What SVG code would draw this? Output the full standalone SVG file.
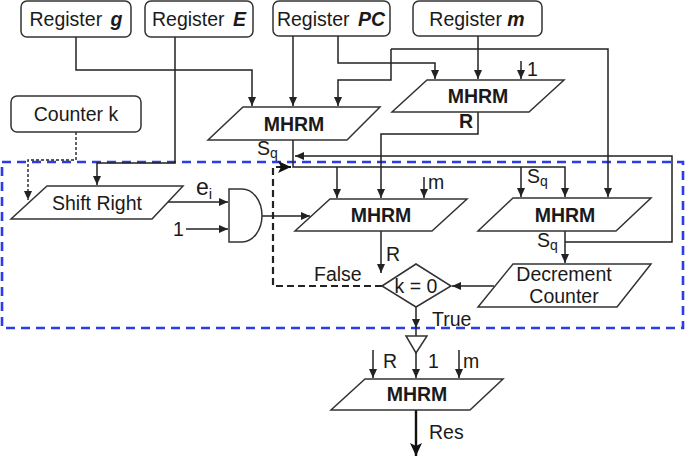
<svg xmlns="http://www.w3.org/2000/svg" width="685" height="460" viewBox="0 0 685 460">
<style>
text{font-family:"Liberation Sans",Arial,sans-serif;font-size:19.5px;fill:#1a1a1a}
.b{font-weight:bold}
.bi{font-weight:bold;font-style:italic}
.sub{font-size:14px}
.box{fill:#fff;stroke:#333;stroke-width:1.5}
.ln{fill:none;stroke:#222;stroke-width:1.5}
.dot{fill:none;stroke:#222;stroke-width:1.4;stroke-dasharray:3 2}
.dsh{fill:none;stroke:#222;stroke-width:2.2;stroke-dasharray:7 4}
.blue{fill:none;stroke:#2b3de6;stroke-width:2.6;stroke-dasharray:9 6}
</style>
<defs>
<marker id="a" markerUnits="userSpaceOnUse" markerWidth="10" markerHeight="10" refX="9" refY="4" orient="auto"><path d="M0,0 L9,4 L0,8 z" fill="#222"/></marker>
<marker id="ab" markerUnits="userSpaceOnUse" markerWidth="14" markerHeight="14" refX="13" refY="6" orient="auto"><path d="M0,0 L13,6 L0,12 L3,6 z" fill="#111"/></marker>
</defs>
<rect class="blue" x="2" y="162" width="681" height="166"/>
<g id="connectors">
<path class="ln" d="M76,37 V70 H252 V106" marker-end="url(#a)"/>
<path class="ln" d="M175,37 V163 H97 V185" marker-end="url(#a)"/>
<path class="ln" d="M293,36 V106" marker-end="url(#a)"/>
<path class="ln" d="M338,36 V63 H435 V79" marker-end="url(#a)"/>
<path class="ln" d="M391,49 V80 H338 V106" marker-end="url(#a)"/>
<path class="ln" d="M391,49 H608 V197" marker-end="url(#a)"/>
<path class="ln" d="M478,36 V79" marker-end="url(#a)"/>
<path class="ln" d="M521,61 V79" marker-end="url(#a)"/>
<path class="ln" d="M478,112 V134 H381 V198" marker-end="url(#a)"/>
<path class="ln" d="M293,140 V167 H565 V197" marker-end="url(#a)"/>
<path class="ln" d="M337,167 V198" marker-end="url(#a)"/>
<path class="ln" d="M521,167 V197" marker-end="url(#a)"/>
<path class="ln" d="M565,231 V263" marker-end="url(#a)"/>
<path class="ln" d="M565,242 H672 V156 H295" marker-end="url(#a)"/>
<path class="ln" d="M424,177 V198" marker-end="url(#a)"/>
<path class="dot" d="M76,132 V160 H28 V200" marker-end="url(#a)"/>
<path class="ln" d="M168,202 H228" marker-end="url(#a)"/>
<path class="ln" d="M186,229 H228" marker-end="url(#a)"/>
<path class="ln" d="M262,216 H310" marker-end="url(#a)"/>
<path class="ln" d="M381,231 V273" marker-end="url(#a)"/>
<path class="dsh" d="M382,286 H273 V167 H280"/>
<path d="M279,167 H291" stroke="#111" stroke-width="2" marker-end="url(#ab)"/>
<path class="ln" d="M494,286 H452" marker-end="url(#a)"/>
<path class="ln" d="M416,307 V328" marker-end="url(#a)"/>
<path class="ln" d="M416,328 V337"/>
<path class="ln" d="M416,353 V378" marker-end="url(#a)"/>
<path class="ln" d="M373,350 V378" marker-end="url(#a)"/>
<path class="ln" d="M459,350 V378" marker-end="url(#a)"/>
<path d="M416,410 V456" stroke="#111" stroke-width="2.4" marker-end="url(#ab)"/>
</g>
<g id="reg-g"><rect class="box" x="21" y="1" width="110" height="36" rx="6"/><text x="76" y="26" text-anchor="middle">Register <tspan class="bi" dx="3">g</tspan></text></g>
<g id="reg-E"><rect class="box" x="145" y="1" width="108" height="36" rx="6"/><text x="199" y="26" text-anchor="middle">Register <tspan class="bi" dx="3">E</tspan></text></g>
<g id="reg-PC"><rect class="box" x="273" y="1" width="117" height="35" rx="6"/><text x="331" y="26" text-anchor="middle">Register <tspan class="bi" dx="3">PC</tspan></text></g>
<g id="reg-m"><rect class="box" x="413" y="1" width="129" height="35" rx="6"/><text x="477" y="26" text-anchor="middle">Register <tspan class="bi">m</tspan></text></g>
<g id="counter-k"><rect class="box" x="11" y="96" width="130" height="36" rx="6"/><text x="76" y="121" text-anchor="middle">Counter k</text></g>
<g id="mhrm1"><polygon class="box" points="243,107 380,107 347,140 208,140"/><text class="b" x="294" y="131" text-anchor="middle">MHRM</text></g>
<g id="mhrm2"><polygon class="box" points="427,80 564,80 529,112 392,112"/><text class="b" x="478" y="103" text-anchor="middle">MHRM</text></g>
<g id="shift-right"><polygon class="box" points="47,186 183,186 152,219 11,219"/><text x="97" y="210" text-anchor="middle">Shift Right</text></g>
<g id="and-gate"><path class="box" d="M229,189 H242 A20,26.5 0 0 1 242,242 H229 Z"/></g>
<g id="mhrm3"><polygon class="box" points="330,199 467,199 432,231 295,231"/><text class="b" x="381" y="222" text-anchor="middle">MHRM</text></g>
<g id="mhrm4"><polygon class="box" points="513,198 651,198 616,231 478,231"/><text class="b" x="565" y="222" text-anchor="middle">MHRM</text></g>
<g id="decrement"><polygon class="box" points="513,264 651,264 617,307 478,307"/><text x="564" y="281" text-anchor="middle">Decrement</text><text x="564" y="303" text-anchor="middle">Counter</text></g>
<g id="k0"><polygon class="box" points="382,286 416,264 451,286 416,307"/><text x="416" y="293" text-anchor="middle">k = 0</text></g>
<g id="buffer"><polygon class="box" points="406,336 427,336 416,353"/></g>
<g id="mhrm5"><polygon class="box" points="365,379 503,379 470,410 331,410"/><text class="b" x="417" y="401" text-anchor="middle">MHRM</text></g>
<g id="labels">
<text x="527" y="76">1</text>
<text class="b" x="459" y="128">R</text>
<text x="257" y="155">S<tspan class="sub" dy="3">q</tspan></text>
<text x="527" y="183">S<tspan class="sub" dy="3">q</tspan></text>
<text x="537" y="247">S<tspan class="sub" dy="3">q</tspan></text>
<text x="428" y="189">m</text>
<text x="196" y="195" style="font-size:23px">e<tspan style="font-size:15px" dy="4">i</tspan></text>
<text x="173" y="236">1</text>
<text x="386" y="261">R</text>
<text x="314" y="281">False</text>
<text x="432" y="326">True</text>
<text x="383" y="368">R</text>
<text x="428" y="368">1</text>
<text x="463" y="368">m</text>
<text x="429" y="439">Res</text>
</g>
</svg>
